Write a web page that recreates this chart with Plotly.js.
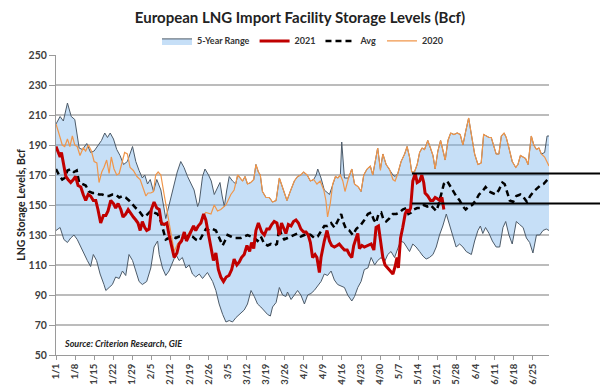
<!DOCTYPE html>
<html>
<head>
<meta charset="utf-8">
<script src="https://cdn.plot.ly/plotly-3.0.1.min.js"></script>
<style>html,body{margin:0;padding:0;background:#fff;}#chart{width:600px;height:388px;}</style>
</head>
<body>
<div id="chart"></div>
<script>
// [day of year offset from Jan 1, value in Bcf]
const rangeMax = [[0,204],[0.8,207],[1.5,209],[2.7,206],[4.2,218],[5.6,209],[6.9,207],[8.5,188],[9.7,187],[11.3,191],[12.7,185],[14,186],[15.4,190],[16.7,193],[17.9,198],[18.9,195],[19.9,198],[21.1,194],[22.3,187],[23.5,183],[24.8,177],[26.2,179],[28.1,189],[29.3,179],[30.5,173],[31.7,168],[32.6,170],[33.6,164],[34.6,167],[35.8,159],[37,167],[38.5,160],[40.3,141],[42.8,160],[44.5,172],[45.8,179],[47,175],[48.3,169],[49.5,165],[50.7,160],[52,149],[52.6,152],[53.8,169],[54.7,174],[56,170],[57,166],[58.1,157],[59.3,161],[60.2,165],[61,156],[61.8,149],[62.7,160],[63.6,169],[64.8,166],[66,164],[66.7,170],[67.6,168],[68.5,166],[69.4,169],[70.3,164],[71.5,165],[72.6,167],[73.4,177],[74.3,172],[75,170],[75.8,159],[77.1,155],[78.3,155],[79.5,152],[80.8,153],[82,168],[82.8,164],[83.8,159],[84.8,153],[86,159],[87.5,166],[88.7,169],[89.9,170],[90.9,172],[92.2,170],[93.4,166],[94.6,167],[95.5,170],[96.1,174],[97.3,168],[98.5,160],[100.4,157],[101.6,164],[102.6,169],[103.5,168],[104.4,170],[104.9,192],[105.9,168],[107.4,168],[108.6,174],[109.6,164],[111,162],[112,159],[113,170],[114.2,174],[115.4,176],[116.3,170],[117.2,180],[118.1,188],[119.1,174],[120,184],[121.2,177],[122.4,174],[123.7,170],[124.5,169],[125.5,171],[126.7,179],[128,184],[128.9,189],[129.8,182],[130.6,172],[131.6,172],[132.6,177],[133.5,185],[134.4,188],[135.3,187],[136.5,193],[137.5,188],[138.4,183],[139.2,174],[140.2,186],[141.2,193],[142,187],[142.9,180],[143.9,193],[144.9,198],[146.1,197],[147.3,198],[148.4,197],[149.4,190],[150.4,199],[151.5,208],[152.5,197],[153.7,184],[154.9,177],[156.1,178],[157,197],[158,196],[159,195],[159.8,195],[160.8,188],[161.6,184],[162.6,184],[163.5,196],[164.5,198],[165.3,195],[166.3,188],[167.5,179],[168.8,175],[169.6,177],[170.5,183],[171.5,182],[172.4,181],[173.3,177],[174.5,196],[175.4,190],[176.4,187],[177.3,188],[178.2,184],[179.4,185],[180.3,196],[181,196]];

const rangeMin = [[0,133],[1.5,135],[2.9,127],[4.2,125],[5.4,128],[6.6,130],[7.8,127],[9.1,122],[10.3,117],[11.5,113],[12.7,109],[13.7,117],[14.9,113],[16.2,104],[17.6,97],[18.3,93],[19.5,95],[20.7,97],[21.9,102],[23.2,101],[24.4,106],[25.6,103],[26.8,117],[28.1,113],[29.3,106],[30.5,99],[31.7,97],[33.3,99],[34.8,108],[36,122],[37.3,126],[37.9,117],[39.1,108],[40.3,103],[41.5,106],[42.8,112],[44,117],[45.2,113],[46.4,115],[47.7,108],[48.9,110],[50.1,104],[51.3,102],[52.6,104],[53.8,101],[55.6,105],[57.5,99],[58.7,93],[59.9,84],[61.2,77],[62.4,72],[63.6,73],[64.8,72],[66.1,75],[67.9,78],[69.1,80],[70.3,84],[71.6,93],[72.8,89],[74,84],[75.2,82],[76.5,79],[77.7,77],[78.7,76],[79.5,82],[80.8,85],[82,95],[83.2,90],[84.4,89],[85,92],[86.3,87],[87.5,90],[88.7,93],[89.9,90],[91.2,84],[92.4,90],[93.6,91],[94.8,93],[96.1,96],[97.3,99],[98.5,104],[99.7,103],[101,106],[102.2,100],[103.4,97],[104.7,96],[105.9,95],[107.1,90],[108.6,86],[109.6,89],[110.8,95],[112,99],[113.2,107],[114.5,108],[115.7,115],[117,110],[118.1,113],[119.4,115],[120.6,112],[121.8,117],[123,119],[124.3,115],[125.2,119],[126.5,126],[127.7,125],[128.6,122],[129.8,119],[131,124],[132.2,122],[133.5,119],[134.7,116],[135.9,114],[137.1,115],[138.4,117],[139.6,122],[140.8,130],[142,136],[143.3,144],[144.5,137],[145.7,130],[146.9,122],[148.2,124],[149.4,122],[150.6,119],[152.5,117],[153.7,126],[154.9,133],[155.8,136],[156.7,131],[157.7,135],[159,131],[160.2,126],[161.6,122],[162.9,122],[164.1,135],[165.1,139],[166.3,130],[167.5,124],[169,139],[170.2,137],[171.5,135],[172.7,128],[173.9,125],[175.1,118],[176.4,130],[177.6,130],[178.8,133],[180,134],[181,133]];

const series2021 = [[0,189],[0.7,185],[1.5,182],[2,185],[2.7,177],[3.6,169],[4.4,167],[5.4,165],[6.4,167],[7.2,169],[8.1,163],[9.1,162],[10,157],[10.9,153],[11.8,157],[12.7,156],[13.7,153],[14.6,153],[15.4,147],[16.4,138],[17.4,143],[18.3,143],[19.1,146],[20.1,153],[21.1,151],[21.9,148],[22.8,151],[23.8,147],[24.6,142],[25.6,144],[26.5,147],[27.5,144],[28.4,142],[29.3,140],[30.1,138],[30.9,133],[31.7,139],[32.6,135],[33.3,133],[34.2,134],[35,147],[36,152],[37,148],[37.9,147],[38.7,138],[39.7,137],[40.7,138],[41.5,130],[42.4,122],[43.4,115],[44.4,118],[45.2,124],[46.1,126],[47.1,132],[47.9,126],[48.9,130],[49.8,134],[50.5,136],[51.3,133],[52.2,136],[53.2,138],[54.2,144],[55,140],[56,131],[56.9,122],[57.8,113],[58.7,118],[59.6,107],[60.5,102],[61.5,99],[62.5,102],[63.5,103],[64.5,107],[65.4,114],[66.4,110],[67.3,112],[68.1,115],[69.1,117],[70.1,123],[71.1,119],[71.8,125],[72.6,121],[73.4,133],[74.3,138],[75.5,132],[76.5,130],[77.4,134],[78.3,134],[79.2,137],[80.1,139],[81.1,138],[82,130],[82.8,138],[83.6,134],[84.4,131],[85.3,137],[86.3,136],[87.2,139],[88.1,140],[89,138],[89.9,134],[90.9,132],[91.8,132],[92.6,130],[93.4,125],[94.2,115],[95.1,117],[95.8,115],[96.7,105],[97.3,115],[97.9,122],[98.5,126],[99.5,133],[100.4,126],[101.2,123],[102.2,122],[103.2,123],[104,124],[104.9,122],[105.9,120],[106.9,120],[107.7,117],[108.6,115],[109.3,123],[110.2,128],[110.8,131],[111.4,121],[112.3,123],[113.2,122],[114.5,123],[115.7,124],[116.7,120],[117.5,135],[118.4,136],[119.1,126],[120,115],[120.8,110],[121.8,108],[122.8,106],[123.7,104],[124.5,109],[125.2,115],[125.7,108],[126.5,128],[127.3,135],[128.2,144],[128.9,147],[129.5,145],[130.2,148],[131,166],[131.9,171],[132.6,165],[133.5,166],[134.3,170],[135,165],[135.5,158],[136.5,156],[137.5,153],[138.4,153],[139.2,155],[140.2,154],[140.9,153],[141.7,155],[142.4,147]];

const seriesAvg = [[0,174],[1.1,170],[2.3,167],[3.2,168],[4.2,173],[5.4,174],[6.6,172],[7.6,173],[8.5,165],[9.7,164],[10.9,163],[12.1,159],[13.4,158],[14.6,158],[15.8,157],[17,157],[18.3,156],[19.5,156],[20.7,157],[21.9,157],[23.2,155],[24.4,156],[25.6,155],[26.8,153],[28.1,150],[29.3,148],[30.5,146],[31.7,143],[32.6,142],[33.6,144],[34.8,146],[36,145],[37.3,144],[38.5,139],[39.5,133],[40.3,127],[41.5,128],[42.8,129],[44,128],[45.2,129],[46.4,129],[47.7,128],[48.9,130],[50.1,129],[51.3,127],[52.6,126],[53.8,130],[55,134],[56.3,133],[57.5,134],[58.7,133],[59.9,128],[61.2,123],[62,126],[63,130],[64.2,129],[65.4,128],[66.7,128],[67.9,128],[69.1,129],[70.3,130],[71.6,129],[72.8,128],[74,126],[75.2,129],[76.5,124],[77.7,123],[78.9,124],[80.1,123],[81.1,124],[82,135],[82.8,130],[83.8,127],[85,128],[86.3,129],[87.5,130],[88.7,131],[89.9,129],[91.2,130],[92.4,131],[93.6,130],[94.8,128],[96.1,129],[97.3,133],[98.5,136],[99.7,136],[101,138],[102.2,135],[103.4,139],[104.7,144],[105.6,138],[106.5,134],[107.7,133],[109,130],[110.2,134],[110.8,135],[112,137],[113.2,140],[114.5,144],[115.7,145],[116.7,140],[117.5,138],[118.4,144],[119.4,145],[120.3,140],[121.2,139],[122.4,141],[123.7,144],[124.9,144],[126.1,145],[127.3,147],[128.6,148],[129.4,144],[130.4,145],[131.4,147],[132.6,148],[133.8,148],[135.1,150],[136.3,149],[137.5,150],[138.7,148],[139.6,146],[140.4,150],[141.4,157],[142.4,164],[143.6,166],[144.5,163],[145.7,159],[146.9,156],[148.2,153],[149.4,149],[150.4,147],[151.6,149],[152.8,150],[154.1,153],[155.3,157],[156.5,159],[157.7,162],[159,159],[160.2,158],[161.4,157],[162.6,160],[163.9,165],[164.7,164],[165.6,158],[166.6,153],[167.8,152],[169,156],[170.5,157],[171.7,155],[172.9,152],[174.1,156],[175.4,159],[176.6,161],[177.8,163],[179,164],[180.3,167],[181,168]];

const series2020 = [[0,204],[0.7,199],[1.5,195],[2.3,190],[3.2,189],[4.2,194],[5.1,189],[6,196],[6.9,190],[7.8,189],[8.8,183],[10,188],[10.9,186],[11.9,190],[13,186],[14,179],[15,178],[15.8,165],[16.8,172],[17.6,175],[18.6,180],[19.5,171],[20.3,182],[21.3,174],[22.3,170],[23.2,171],[24.4,180],[25.2,185],[26.2,184],[27.2,175],[28.4,173],[29.7,169],[30.9,167],[32.1,160],[33,156],[33.8,158],[34.8,158],[35.8,159],[36.6,170],[37.5,172],[38.5,170],[39.7,157],[41.5,139],[43.4,119],[44.6,124],[46.4,128],[48.3,130],[50.1,135],[52,135],[53.8,142],[55,145],[56.9,144],[58.1,150],[59.3,146],[60.5,147],[62.4,150],[64.2,157],[65.4,160],[66.7,170],[67.6,168],[68.5,166],[69.4,169],[70.3,164],[71.5,165],[72.6,167],[73.4,177],[74.3,172],[75,170],[75.8,159],[77.1,155],[78.3,155],[79.5,152],[80.8,153],[82,168],[82.8,164],[83.8,159],[84.8,153],[86,159],[87.5,166],[88.7,169],[89.9,170],[90.9,172],[92.2,170],[93.4,166],[94.6,167],[95.8,164],[97,166],[98.3,160],[99.1,153],[99.7,142],[100.7,151],[101.6,164],[102.6,169],[103.5,168],[104.4,170],[105.3,166],[106.1,159],[107.4,168],[108.6,174],[109.6,164],[111,162],[112,159],[113,170],[114.2,174],[115.4,176],[116.3,170],[117.2,180],[118.1,188],[119.1,173],[120,184],[121.2,177],[122.4,174],[123.7,167],[124.5,166],[125.5,171],[126.7,179],[128,184],[128.9,189],[129.8,182],[130.6,172],[131.6,172],[132.6,177],[133.5,185],[134.4,188],[135.3,187],[136.5,193],[137.5,188],[138.4,183],[139.2,174],[140.2,186],[141.2,193],[142,187],[142.9,180],[143.9,193],[144.9,198],[146.1,197],[147.3,198],[148.4,197],[149.4,190],[150.4,199],[151.5,208],[152.5,197],[153.7,184],[154.9,177],[156.1,178],[157,197],[158,196],[159,195],[159.8,195],[160.8,188],[161.6,184],[162.6,184],[163.5,196],[164.5,198],[165.3,195],[166.3,188],[167.5,179],[168.8,175],[169.6,177],[170.5,183],[171.5,182],[172.4,181],[173.3,177],[174.5,196],[175.4,190],[176.4,187],[177.3,188],[178.2,184],[179.4,182],[180.3,179],[181,176]];

const seriesNames = ['5-Year Range', '2021', 'Avg', '2020'];
const referenceLevels = [171, 151];
const yTicks = [50, 70, 90, 110, 130, 150, 170, 190, 210, 230, 250];

const BASE = Date.UTC(2021, 0, 1);
function toDate(d) {
  return new Date(BASE + d * 86400000).toISOString().slice(0, 19).replace('T', ' ');
}
const xs = arr => arr.map(p => toDate(p[0]));
const ys = arr => arr.map(p => p[1]);

const bandLine = {color: '#4d5b69', width: 1};
const traces = [
  {x: xs(rangeMin), y: ys(rangeMin), type: 'scatter', mode: 'lines', line: bandLine, showlegend: false, hoverinfo: 'skip'},
  {x: xs(rangeMax), y: ys(rangeMax), type: 'scatter', mode: 'lines', line: bandLine, fill: 'tonexty', fillcolor: 'rgba(120,178,236,0.42)', name: seriesNames[0], legendrank: 1},
  {x: xs(series2020), y: ys(series2020), type: 'scatter', mode: 'lines', line: {color: '#f0964a', width: 1.2}, name: seriesNames[3], legendrank: 4},
  {x: xs(seriesAvg), y: ys(seriesAvg), type: 'scatter', mode: 'lines', line: {color: '#000000', width: 2.5, dash: '6px,4px'}, name: seriesNames[2], legendrank: 3},
  {x: xs(series2021), y: ys(series2021), type: 'scatter', mode: 'lines', line: {color: '#c00000', width: 3}, name: seriesNames[1], legendrank: 2}
];

const FONT = 'Lato, "Open Sans", sans-serif';
const layout = {
  width: 600, height: 388,
  margin: {l: 56, r: 51, t: 55, b: 33, autoexpand: false},
  paper_bgcolor: '#ffffff', plot_bgcolor: '#ffffff',
  title: {text: '<b>European LNG Import Facility Storage Levels (Bcf)</b>', font: {family: FONT, size: 15, color: '#222'}, x: 0.5, xref: 'container', xanchor: 'center', y: 1 - 18/388, yref: 'container', yanchor: 'middle'},
  showlegend: true,
  legend: {orientation: 'h', traceorder: 'normal', x: 0.5, xanchor: 'center', y: 1.047, yanchor: 'middle', font: {family: FONT, size: 9, color: '#333', weight: 'bold'}, itemwidth: 30, tracegroupgap: 0, bgcolor: 'rgba(0,0,0,0)'},
  xaxis: {
    type: 'date', range: [toDate(0), toDate(181)],
    tick0: toDate(0), dtick: 7 * 86400000, tickformat: '%-m/%-d', tickangle: -90,
    ticks: 'outside', ticklen: 4, tickcolor: '#9a9a9a', showline: true, linecolor: '#9a9a9a', linewidth: 1,
    showgrid: false, zeroline: false,
    tickfont: {family: FONT, size: 9.5, color: '#404040', weight: 'bold'}
  },
  yaxis: {
    range: [50, 250], tickvals: yTicks, ticks: 'outside', ticklen: 6, tickcolor: '#9a9a9a',
    showline: true, linecolor: '#9a9a9a', linewidth: 1,
    showgrid: true, gridcolor: '#bcbcbc', gridwidth: 1.5, zeroline: false,
    tickfont: {family: FONT, size: 10.5, color: '#404040', weight: 'bold'},
    title: {text: '<b>LNG Storage Levels, Bcf</b>', font: {family: FONT, size: 10.5, color: '#222'}, standoff: 0}
  },
  shapes: referenceLevels.map(v => ({type: 'line', xref: 'paper', yref: 'y', x0: 0.722, x1: 1.105, y0: v, y1: v, line: {color: '#000', width: 2}, layer: 'above'})),
  annotations: [{text: '<b><i>Source: Criterion Research, GIE</i></b>', xref: 'paper', yref: 'paper', x: 0.012, y: 0.04, xanchor: 'left', yanchor: 'middle', showarrow: false, font: {family: FONT, size: 9, color: '#222'}}]
};

Plotly.newPlot('chart', traces, layout, {displayModeBar: false, staticPlot: true});
</script>
</body>
</html>
